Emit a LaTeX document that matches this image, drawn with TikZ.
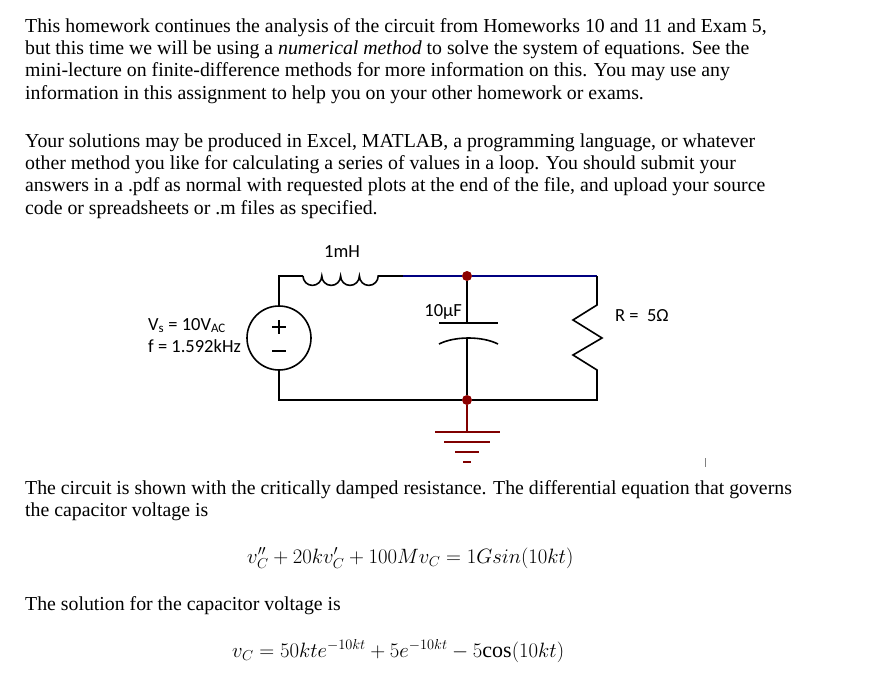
\documentclass[tikz,border=0pt]{standalone}
\usepackage{fontspec}
\setmainfont{Liberation Serif}
\newfontfamily\calib{Carlito}
\begin{document}
\begin{tikzpicture}[x=1pt,y=-1pt,
  txt/.style={anchor=base west,inner sep=0pt,font=\fontsize{19.8}{23}\selectfont},
  lab/.style={inner sep=0pt,font=\calib\fontsize{18.5}{21}\selectfont},
  wire/.style={line width=1.6pt,black},
  bwire/.style={line width=1.6pt,blue!50!black},
  gnd/.style={line width=1.6pt,red!50!black},
  dotn/.style={circle,fill=red!55!black,inner sep=0pt,minimum size=10pt}]
\useasboundingbox (0,0) rectangle (873,679);
\node[txt] (p1) at (25,33) {This homework continues the analysis of the circuit from Homeworks 10 and 11 and Exam 5,};
\node[txt] (p2) at (25,55) {but this time we will be using a \textit{numerical method} to solve the system of equations.  See the};
\node[txt] (p3) at (25,77) {mini-lecture on finite-difference methods for more information on this.  You may use any};
\node[txt] (p4) at (25,100) {information in this assignment to help you on your other homework or exams.};
\node[txt] (q1) at (25,148) {Your solutions may be produced in Excel, MATLAB, a programming language, or whatever};
\node[txt] (q2) at (25,170) {other method you like for calculating a series of values in a loop.  You should submit your};
\node[txt] (q3) at (25,192) {answers in a .pdf as normal with requested plots at the end of the file, and upload your source};
\node[txt] (q4) at (25,215) {code or spreadsheets or .m files as specified.};
\node[txt] (c1) at (25,494) {The circuit is shown with the critically damped resistance.  The differential equation that governs};
\node[txt] (c2) at (25,516) {the capacitor voltage is};
\node[txt] (s1) at (25,610) {The solution for the capacitor voltage is};
\node[txt,font=\fontsize{22.5}{24}\selectfont] (e1) at (247,563) {$v_C'' + 20k v_C' + 100M v_C = 1G sin(10kt)$};
\node[txt,font=\fontsize{22}{24}\selectfont] (e2) at (232,657) {$v_C = 50kte^{-10kt} + 5e^{-10kt} - 5\textrm{cos}(10kt)$};
% circuit
\coordinate (tl) at (279,276);
\coordinate (bl) at (279,400);
\coordinate (i1) at (303,276);
\coordinate (i2) at (378,276);
\coordinate (bs) at (403,276);
\coordinate (tr) at (597,276);
\coordinate (br) at (597,400);
\node[dotn] (nt) at (467,276) {};
\node[dotn] (nb) at (467,400) {};
\node[circle,draw,line width=1.6pt,minimum size=64pt,inner sep=0pt] (src) at (279,338) {};
\draw[wire] (src.north) -- (tl) -- (i1);
\draw[wire] (i1) arc[start angle=180,end angle=0,radius=9.4] arc[start angle=180,end angle=0,radius=9.4] arc[start angle=180,end angle=0,radius=9.4] arc[start angle=180,end angle=0,radius=9.4] -- (bs);
\draw[bwire] (bs) -- (nt) -- (tr);
\draw[wire] (src.south) -- (bl) -- (nb) -- (br) -- (597,370) -- (573,355) -- (602,338) -- (573,320) -- (597,305) -- (tr);
\draw[wire] (279,320) -- (279,334) (272,327) -- (286,327) (272,351) -- (286,351);
% capacitor
\draw[wire] (nt) -- (467,323) (439,323) -- (498,323);
\draw[wire] (439,344) .. controls (455,336) and (482,336) .. (498,344);
\draw[wire] (467,338) -- (nb);
% ground
\draw[gnd] (nb) -- (467,432) (435,432) -- (500,432) (444,442) -- (490,442) (455,452) -- (479,452) (463,462) -- (471,462);
\node[lab,anchor=base] (lmh) at (342,258) {1mH};
\node[lab,anchor=base east] (lc) at (462,316) {10µF};
\node[lab,anchor=base west] (lr) at (615,321) {R =\ \ 5Ω};
\node[lab,anchor=base west] (lv) at (148,330) {V\textsubscript{s} = 10V\textsubscript{AC}};
\node[lab,anchor=base west] (lf) at (148,352) {f = 1.592kHz};
\draw[line width=0.5pt,gray] (705,458) -- (705,467);
\end{tikzpicture}
\end{document}
